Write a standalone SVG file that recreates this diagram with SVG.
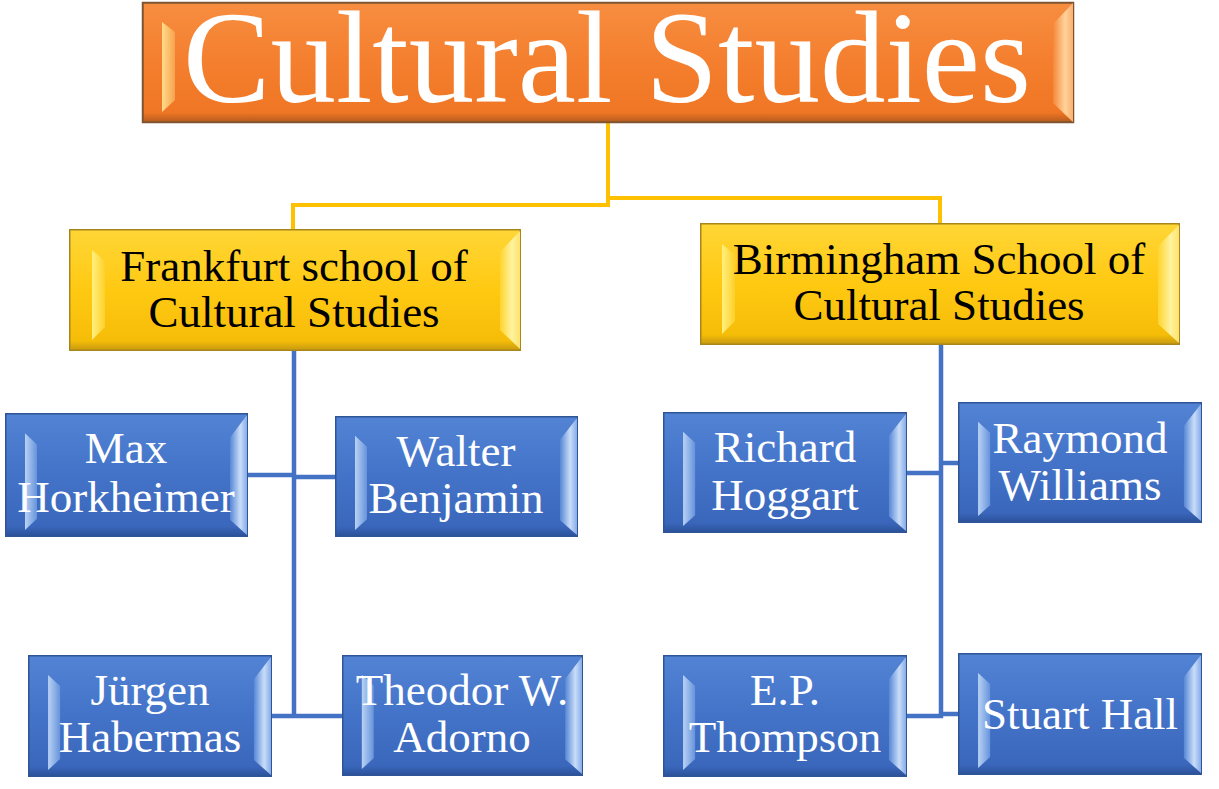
<svg xmlns="http://www.w3.org/2000/svg" width="1219" height="789" viewBox="0 0 1219 789">
<style>
  .t { font-family: "Liberation Serif", "Times New Roman", serif; text-anchor: middle; }
  .white { fill: #FFFFFF; }
  .black { fill: #000000; }
  .big { font-size: 131px; }
  .mid { font-size: 45px; }
  .yl { fill: none; stroke: #FFC000; stroke-width: 4; }
  .bl { fill: none; stroke: #4472C4; stroke-width: 4.5; }
</style>
<defs>
  <linearGradient id="blueFace" x1="0" y1="0" x2="0" y2="1">
    <stop offset="0" stop-color="#5383D4"/>
    <stop offset="0.5" stop-color="#4373C8"/>
    <stop offset="0.92" stop-color="#3A67BC"/>
    <stop offset="1" stop-color="#2B5199"/>
  </linearGradient>
  <linearGradient id="blueLeft" x1="0" y1="0" x2="1" y2="0">
    <stop offset="0" stop-color="#B9D2F4"/>
    <stop offset="1" stop-color="#6793DC"/>
  </linearGradient>
  <linearGradient id="blueRight" x1="0" y1="0" x2="1" y2="0">
    <stop offset="0" stop-color="#5787D6"/>
    <stop offset="0.6" stop-color="#C9DDF8"/>
    <stop offset="1" stop-color="#86ACEA"/>
  </linearGradient>
  <linearGradient id="yelFace" x1="0" y1="0" x2="0" y2="1">
    <stop offset="0" stop-color="#FFD636"/>
    <stop offset="0.5" stop-color="#FFC912"/>
    <stop offset="0.92" stop-color="#F6BD08"/>
    <stop offset="1" stop-color="#C79A10"/>
  </linearGradient>
  <linearGradient id="yelLeft" x1="0" y1="0" x2="1" y2="0">
    <stop offset="0" stop-color="#FFF07E"/>
    <stop offset="1" stop-color="#FFD02A"/>
  </linearGradient>
  <linearGradient id="yelRight" x1="0" y1="0" x2="1" y2="0">
    <stop offset="0" stop-color="#FFD42E"/>
    <stop offset="0.6" stop-color="#FFF3A0"/>
    <stop offset="1" stop-color="#FFE36A"/>
  </linearGradient>
  <linearGradient id="orFace" x1="0" y1="0" x2="0" y2="1">
    <stop offset="0" stop-color="#F78D40"/>
    <stop offset="0.5" stop-color="#F47F2E"/>
    <stop offset="0.92" stop-color="#EF7624"/>
    <stop offset="1" stop-color="#B45A1E"/>
  </linearGradient>
  <linearGradient id="orLeft" x1="0" y1="0" x2="1" y2="0">
    <stop offset="0" stop-color="#FFDC8A"/>
    <stop offset="1" stop-color="#F8A24E"/>
  </linearGradient>
  <linearGradient id="orRight" x1="0" y1="0" x2="1" y2="0">
    <stop offset="0" stop-color="#F5873A"/>
    <stop offset="0.6" stop-color="#FFD39A"/>
    <stop offset="1" stop-color="#FBB070"/>
  </linearGradient>
  <symbol id="bluebox" viewBox="0 0 243 122" width="243" height="122" preserveAspectRatio="none">
    <rect x="0.75" y="0.75" width="241.5" height="120.5" fill="url(#blueFace)" stroke="#2F5597" stroke-width="1.5"/>
    <polygon points="20,20 32,31 32,104 20,115" fill="url(#blueLeft)"/>
    <polygon points="225,24 242,2 242,120 225,105" fill="url(#blueRight)"/>
  </symbol>
</defs>

<g id="connectors">
  <polyline class="yl" points="608,123 608,205 293,205 293,230"/>
  <polyline class="yl" points="608,198 940,198 940,224"/>
  <line class="bl" x1="294" y1="350" x2="294" y2="718"/>
  <line class="bl" x1="248" y1="475" x2="296" y2="475"/>
  <line class="bl" x1="292" y1="477" x2="336" y2="477"/>
  <line class="bl" x1="272" y1="716" x2="343" y2="716"/>
  <line class="bl" x1="941" y1="345" x2="941" y2="718"/>
  <line class="bl" x1="907" y1="473" x2="943" y2="473"/>
  <line class="bl" x1="939" y1="463" x2="959" y2="463"/>
  <line class="bl" x1="907" y1="716" x2="943" y2="716"/>
  <line class="bl" x1="939" y1="714" x2="959" y2="714"/>
</g>

<g id="title">
  <rect x="142.75" y="2.75" width="930.5" height="119.5" fill="url(#orFace)" stroke="#7E5431" stroke-width="2"/>
  <polygon points="162,22 175,32 175,100 162,112" fill="url(#orLeft)"/>
  <polygon points="1053,24 1073,3 1073,122 1053,103" fill="url(#orRight)"/>
  <text class="t white big" x="607" y="102">Cultural Studies</text>
</g>

<g id="frankfurt">
  <rect x="69.75" y="229.75" width="450.5" height="120.5" fill="url(#yelFace)" stroke="#A8861C" stroke-width="1.5"/>
  <polygon points="92,250 105,261 105,327 92,340" fill="url(#yelLeft)"/>
  <polygon points="500,252 520,231 520,349 500,330" fill="url(#yelRight)"/>
  <text class="t black mid" x="294" y="281">Frankfurt school of</text>
  <text class="t black mid" x="294" y="327">Cultural Studies</text>
</g>

<g id="birmingham">
  <rect x="700.75" y="223.75" width="478.5" height="120.5" fill="url(#yelFace)" stroke="#A8861C" stroke-width="1.5"/>
  <polygon points="722,244 735,255 735,321 722,334" fill="url(#yelLeft)"/>
  <polygon points="1158,246 1179,225 1179,343 1158,324" fill="url(#yelRight)"/>
  <text class="t black mid" x="939" y="274">Birmingham School of</text>
  <text class="t black mid" x="939" y="320">Cultural Studies</text>
</g>

<g id="horkheimer">
  <use href="#bluebox" x="5" y="413" width="243" height="124"/>
  <text class="t white mid" x="126" y="463">Max</text>
  <text class="t white mid" x="126" y="512">Horkheimer</text>
</g>

<g id="benjamin">
  <use href="#bluebox" x="335" y="416" width="243" height="121"/>
  <text class="t white mid" x="456" y="466">Walter</text>
  <text class="t white mid" x="456" y="513">Benjamin</text>
</g>

<g id="habermas">
  <use href="#bluebox" x="28" y="655" width="244" height="122"/>
  <text class="t white mid" x="150" y="705">Jürgen</text>
  <text class="t white mid" x="150" y="752">Habermas</text>
</g>

<g id="adorno">
  <use href="#bluebox" x="342" y="655" width="241" height="121"/>
  <text class="t white mid" x="462" y="705">Theodor W.</text>
  <text class="t white mid" x="462" y="752">Adorno</text>
</g>

<g id="hoggart">
  <use href="#bluebox" x="663" y="412" width="244" height="121"/>
  <text class="t white mid" x="785" y="462">Richard</text>
  <text class="t white mid" x="785" y="510">Hoggart</text>
</g>

<g id="williams">
  <use href="#bluebox" x="958" y="402" width="244" height="121"/>
  <text class="t white mid" x="1080" y="453">Raymond</text>
  <text class="t white mid" x="1080" y="500">Williams</text>
</g>

<g id="thompson">
  <use href="#bluebox" x="663" y="655" width="244" height="122"/>
  <text class="t white mid" x="785" y="705">E.P.</text>
  <text class="t white mid" x="785" y="752">Thompson</text>
</g>

<g id="hall">
  <use href="#bluebox" x="958" y="653" width="244" height="122"/>
  <text class="t white mid" x="1080" y="729">Stuart Hall</text>
</g>
</svg>
